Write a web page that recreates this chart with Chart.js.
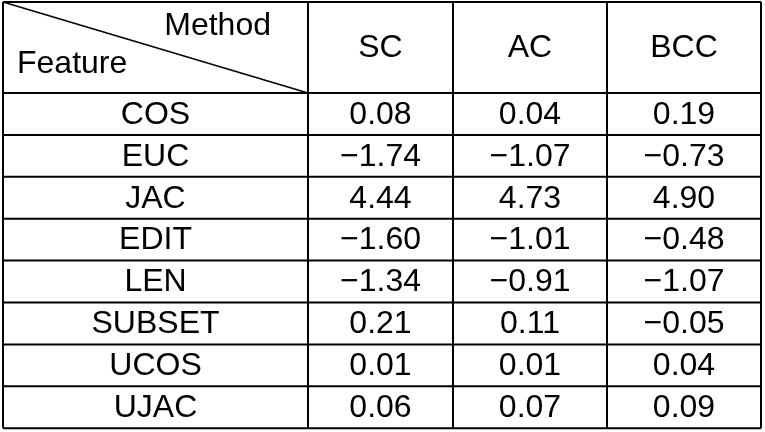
<!DOCTYPE html>
<html>
<head>
<meta charset="utf-8">
<script src="https://cdn.jsdelivr.net/npm/chart.js@4.4.0/dist/chart.umd.min.js"></script>
<style>
  html, body { margin: 0; padding: 0; background: #fff; }
</style>
</head>
<body>
<canvas id="tableChart" width="765" height="432"></canvas>
<script>
const methods = ["SC", "AC", "BCC"];
const features = ["COS", "EUC", "JAC", "EDIT", "LEN", "SUBSET", "UCOS", "UJAC"];
const scValues = [0.08, -1.74, 4.44, -1.60, -1.34, 0.21, 0.01, 0.06];
const acValues = [0.04, -1.07, 4.73, -1.01, -0.91, 0.11, 0.01, 0.07];
const bccValues = [0.19, -0.73, 4.90, -0.48, -1.07, -0.05, 0.04, 0.09];
const seriesValues = [scValues, acValues, bccValues];

// table grid in canvas units (drawn through the linear scales)
const colEdges = [3, 308, 453, 607, 761];
const headerTop = 2, headerBottom = 93, rowHeight = 41.9;

function fmt(v) {
  const s = Math.abs(v).toFixed(2);
  return v < 0 ? "\u2212" + s : s;
}

const tablePlugin = {
  id: "table",
  afterDraw(chart) {
    const { ctx, scales: { x, y } } = chart;
    const px = v => x.getPixelForValue(v);
    const py = v => y.getPixelForValue(v);
    const rowTop = i => headerBottom + i * rowHeight;
    const bottom = rowTop(features.length);

    ctx.save();
    ctx.strokeStyle = "#000";
    ctx.lineWidth = 2;
    [headerTop, headerBottom].concat(features.map((f, i) => rowTop(i + 1))).forEach(v => {
      ctx.beginPath();
      ctx.moveTo(px(colEdges[0]), py(v));
      ctx.lineTo(px(colEdges[colEdges.length - 1]), py(v));
      ctx.stroke();
    });
    colEdges.forEach(c => {
      ctx.beginPath();
      ctx.moveTo(px(c), py(headerTop));
      ctx.lineTo(px(c), py(bottom));
      ctx.stroke();
    });
    // diagonal header
    ctx.lineWidth = 1.5;
    ctx.beginPath();
    ctx.moveTo(px(colEdges[0]), py(headerTop));
    ctx.lineTo(px(colEdges[1]), py(headerBottom));
    ctx.stroke();

    ctx.fillStyle = "#000";
    ctx.textBaseline = "middle";
    ctx.font = "32px 'Liberation Sans', Arial, sans-serif";
    ctx.textAlign = "right";
    ctx.fillText("Method", px(271), py(26));
    ctx.textAlign = "left";
    ctx.fillText("Feature", px(17), py(64));

    ctx.textAlign = "center";
    methods.forEach((m, j) => {
      ctx.fillText(m, px((colEdges[j + 1] + colEdges[j + 2]) / 2), py(48));
    });
    features.forEach((f, i) => {
      const cy = py(rowTop(i) + rowHeight / 2 + 1);
      ctx.fillText(f, px((colEdges[0] + colEdges[1]) / 2), cy);
      seriesValues.forEach((vals, j) => {
        ctx.fillText(fmt(vals[i]), px((colEdges[j + 1] + colEdges[j + 2]) / 2), cy);
      });
    });
    ctx.restore();
  }
};

new Chart(document.getElementById("tableChart"), {
  type: "scatter",
  data: { datasets: [{ data: [] }] },
  options: {
    responsive: false,
    devicePixelRatio: 1,
    animation: false,
    layout: { padding: 0 },
    plugins: { legend: { display: false }, tooltip: { enabled: false } },
    scales: {
      x: { type: "linear", min: 0, max: 765, display: false },
      y: { type: "linear", min: 0, max: 432, reverse: true, display: false }
    }
  },
  plugins: [tablePlugin]
});
</script>
</body>
</html>
